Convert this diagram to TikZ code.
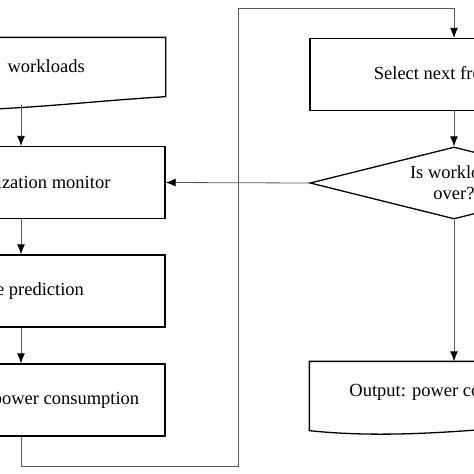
\documentclass[tikz,border=0pt]{standalone}
\usepackage{fontspec}
\setmainfont{Liberation Serif}
\usetikzlibrary{positioning, calc, arrows.meta, shapes.geometric}

\begin{document}
\begin{tikzpicture}[x=1pt, y=-1pt, every node/.style={font=\fontsize{18.5}{21}\selectfont}]

  \tikzstyle{stage}=[draw, line width=1.3pt, minimum width=288pt, minimum height=72pt, inner sep=0pt, align=center]
  \tikzstyle{docstage}=[stage, draw=none, minimum height=60pt]
  \tikzstyle{test}=[stage, diamond, aspect=4, minimum width=288pt, minimum height=72pt]
  \tikzstyle{frame}=[line width=1.3pt, line join=miter]
  \tikzstyle{flow}=[draw=black!65, line width=0.8pt, -{Latex[length=10pt,width=8pt,black]}]

  \clip (0,0) rectangle (474,474);

  % left column
  \node [docstage] (in) at (21,68) {Input: workloads};
  \node [stage] (mon) at (21,182.5) {CPU utilization monitor};
  \node [stage] (pred) at (21,291) {Usage prediction};
  \node [stage] (calc) at (21,400) {Calculating power consumption};

  % right column
  \node [stage] (sel) at (454,74.5) {Select next frequency};
  \node [test] (dec) at (454,183) {Is workload\\over?};
  \node [docstage] (out) at (454,392) {Output: power consumption};

  \foreach \n in {in,out}
    \draw [frame] (\n.north west) -- (\n.north east) -- ($(\n.south east)+(0,-2)$)
      .. controls ($(\n.south west)+(190,4)$) and ($(\n.south west)+(95,18)$) .. ($(\n.south west)+(0,8)$) -- cycle;

  \coordinate (low) at (238,466);
  \coordinate (top) at (238,8);

  \draw [flow] ($(in.south)+(0,6)$) -- (mon);
  \draw [flow] (mon) -- (pred);
  \draw [flow] (pred) -- (calc);
  \draw [flow] (calc.south) |- (low) -- (top) -| (sel.north);
  \draw [flow] (sel) -- (dec);
  \draw [flow] (dec.west) -- (mon.east);
  \draw [flow] (dec.south) -- (out.north);

\end{tikzpicture}
\end{document}
